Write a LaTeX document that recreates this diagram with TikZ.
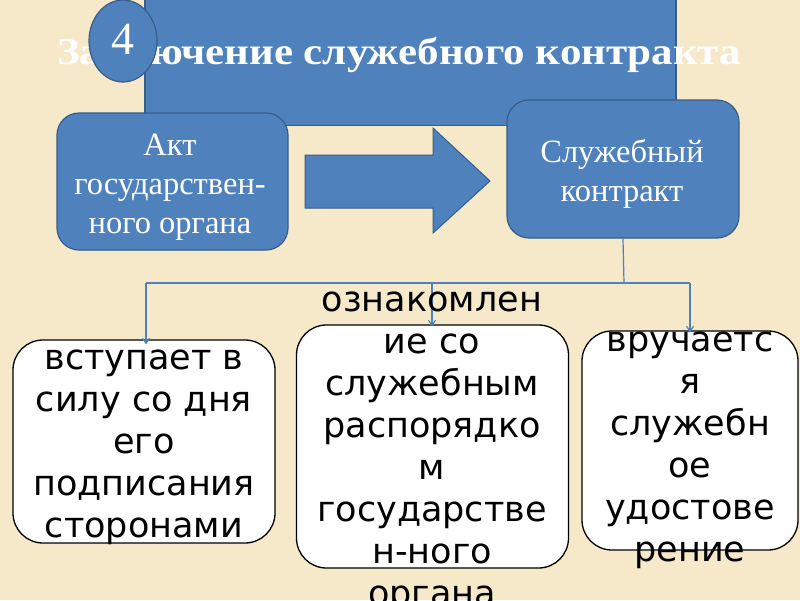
\documentclass[tikz,border=0pt]{standalone}
\usepackage{fontspec}
\setmainfont{Liberation Serif}
\newfontfamily\dvs{DejaVu Sans}
\usetikzlibrary{arrows.meta,shapes.geometric}
\definecolor{bg}{RGB}{245,233,201}
\definecolor{sblue}{RGB}{79,129,189}
\definecolor{dblue}{RGB}{56,93,138}
\begin{document}
\begin{tikzpicture}[x=1pt,y=-1pt,
  bluebox/.style={draw=dblue,line width=1.2pt,fill=sblue,rounded corners=22pt,inner sep=0pt},
  whitebox/.style={draw=black,line width=1.3pt,fill=white,rounded corners=30pt,inner sep=0pt},
  btext/.style={text=white,font=\fontsize{32.5}{39}\selectfont,align=center},
  wtext/.style={text=black,font=\dvs\fontsize{35}{42}\selectfont,align=center},
  conn/.style={draw=sblue,line width=1.2pt},
  carrow/.style={conn,-{Straight Barb[length=5pt,width=7pt]}}]
\useasboundingbox (0,0) rectangle (800,600);
\fill[bg] (0,0) rectangle (800,600);
% top title box
\node[draw=dblue,line width=1.2pt,fill=sblue,minimum width=531pt,minimum height=127pt,inner sep=0pt] (top) at (410.5,62) {};
\node[text=white,font=\bfseries\fontsize{38}{44}\selectfont,anchor=base west,inner sep=0pt] (title) at (57,64) {\scalebox{1.13}[1]{Заключение служебного контракта}};
\node[draw=dblue,line width=1.2pt,fill=sblue,ellipse,minimum width=68pt,minimum height=82pt,inner sep=0pt] (num) at (123,41) {};
\node[text=white,font=\fontsize{46}{50}\selectfont] (numtext) at (123,39) {4};
% blue boxes
\node[bluebox,minimum width=231pt,minimum height=137pt] (akt) at (172.5,181.5) {};
\node[btext] (akttext) at (170,187) {Акт\\государствен-\\ного органа};
\node[bluebox,minimum width=232pt,minimum height=138pt] (kontr) at (623,169) {};
\node[btext] (kontrtext) at (622,174) {Служебный\\контракт};
% block arrow
\draw[draw=dblue,line width=1pt,fill=sblue] (305,155) -- (433,155) -- (433,128) -- (490,181) -- (433,233) -- (433,208) -- (305,208) -- cycle;
% white boxes
\node[whitebox,minimum width=262pt,minimum height=203pt] (b1) at (144,441.5) {};
\node[whitebox,minimum width=272pt,minimum height=243pt] (b2) at (432.5,446.5) {};
\node[whitebox,minimum width=216pt,minimum height=219pt] (b3) at (690,440.5) {};
% connectors
\coordinate (j) at (624,283);
\coordinate (jl) at (146,283);
\coordinate (jm) at (432,283);
\coordinate (jr) at (690,283);
\draw[conn] (kontr.south) -- (j);
\draw[conn] (jl) -- (jr);
\draw[carrow] (jl) -- ([yshift=-5pt]b1.north -| jl);
\draw[carrow] (jm) -- ([yshift=-2pt]b2.north -| jm);
\draw[carrow] (jr) -- ([yshift=-2pt]b3.north -| jr);
% texts
\node[wtext,anchor=north] (t1) at (144,346) {вступает в\\силу со дня\\его\\подписания\\сторонами};
\node[wtext,anchor=north] (t2) at (432,288) {ознакомлен\\ие со\\служебным\\распорядко\\м\\государстве\\н-ного\\органа};
\node[wtext,anchor=north] (t3) at (690,328) {вручаетс\\я\\служебн\\ое\\удостове\\рение};
\end{tikzpicture}
\end{document}
